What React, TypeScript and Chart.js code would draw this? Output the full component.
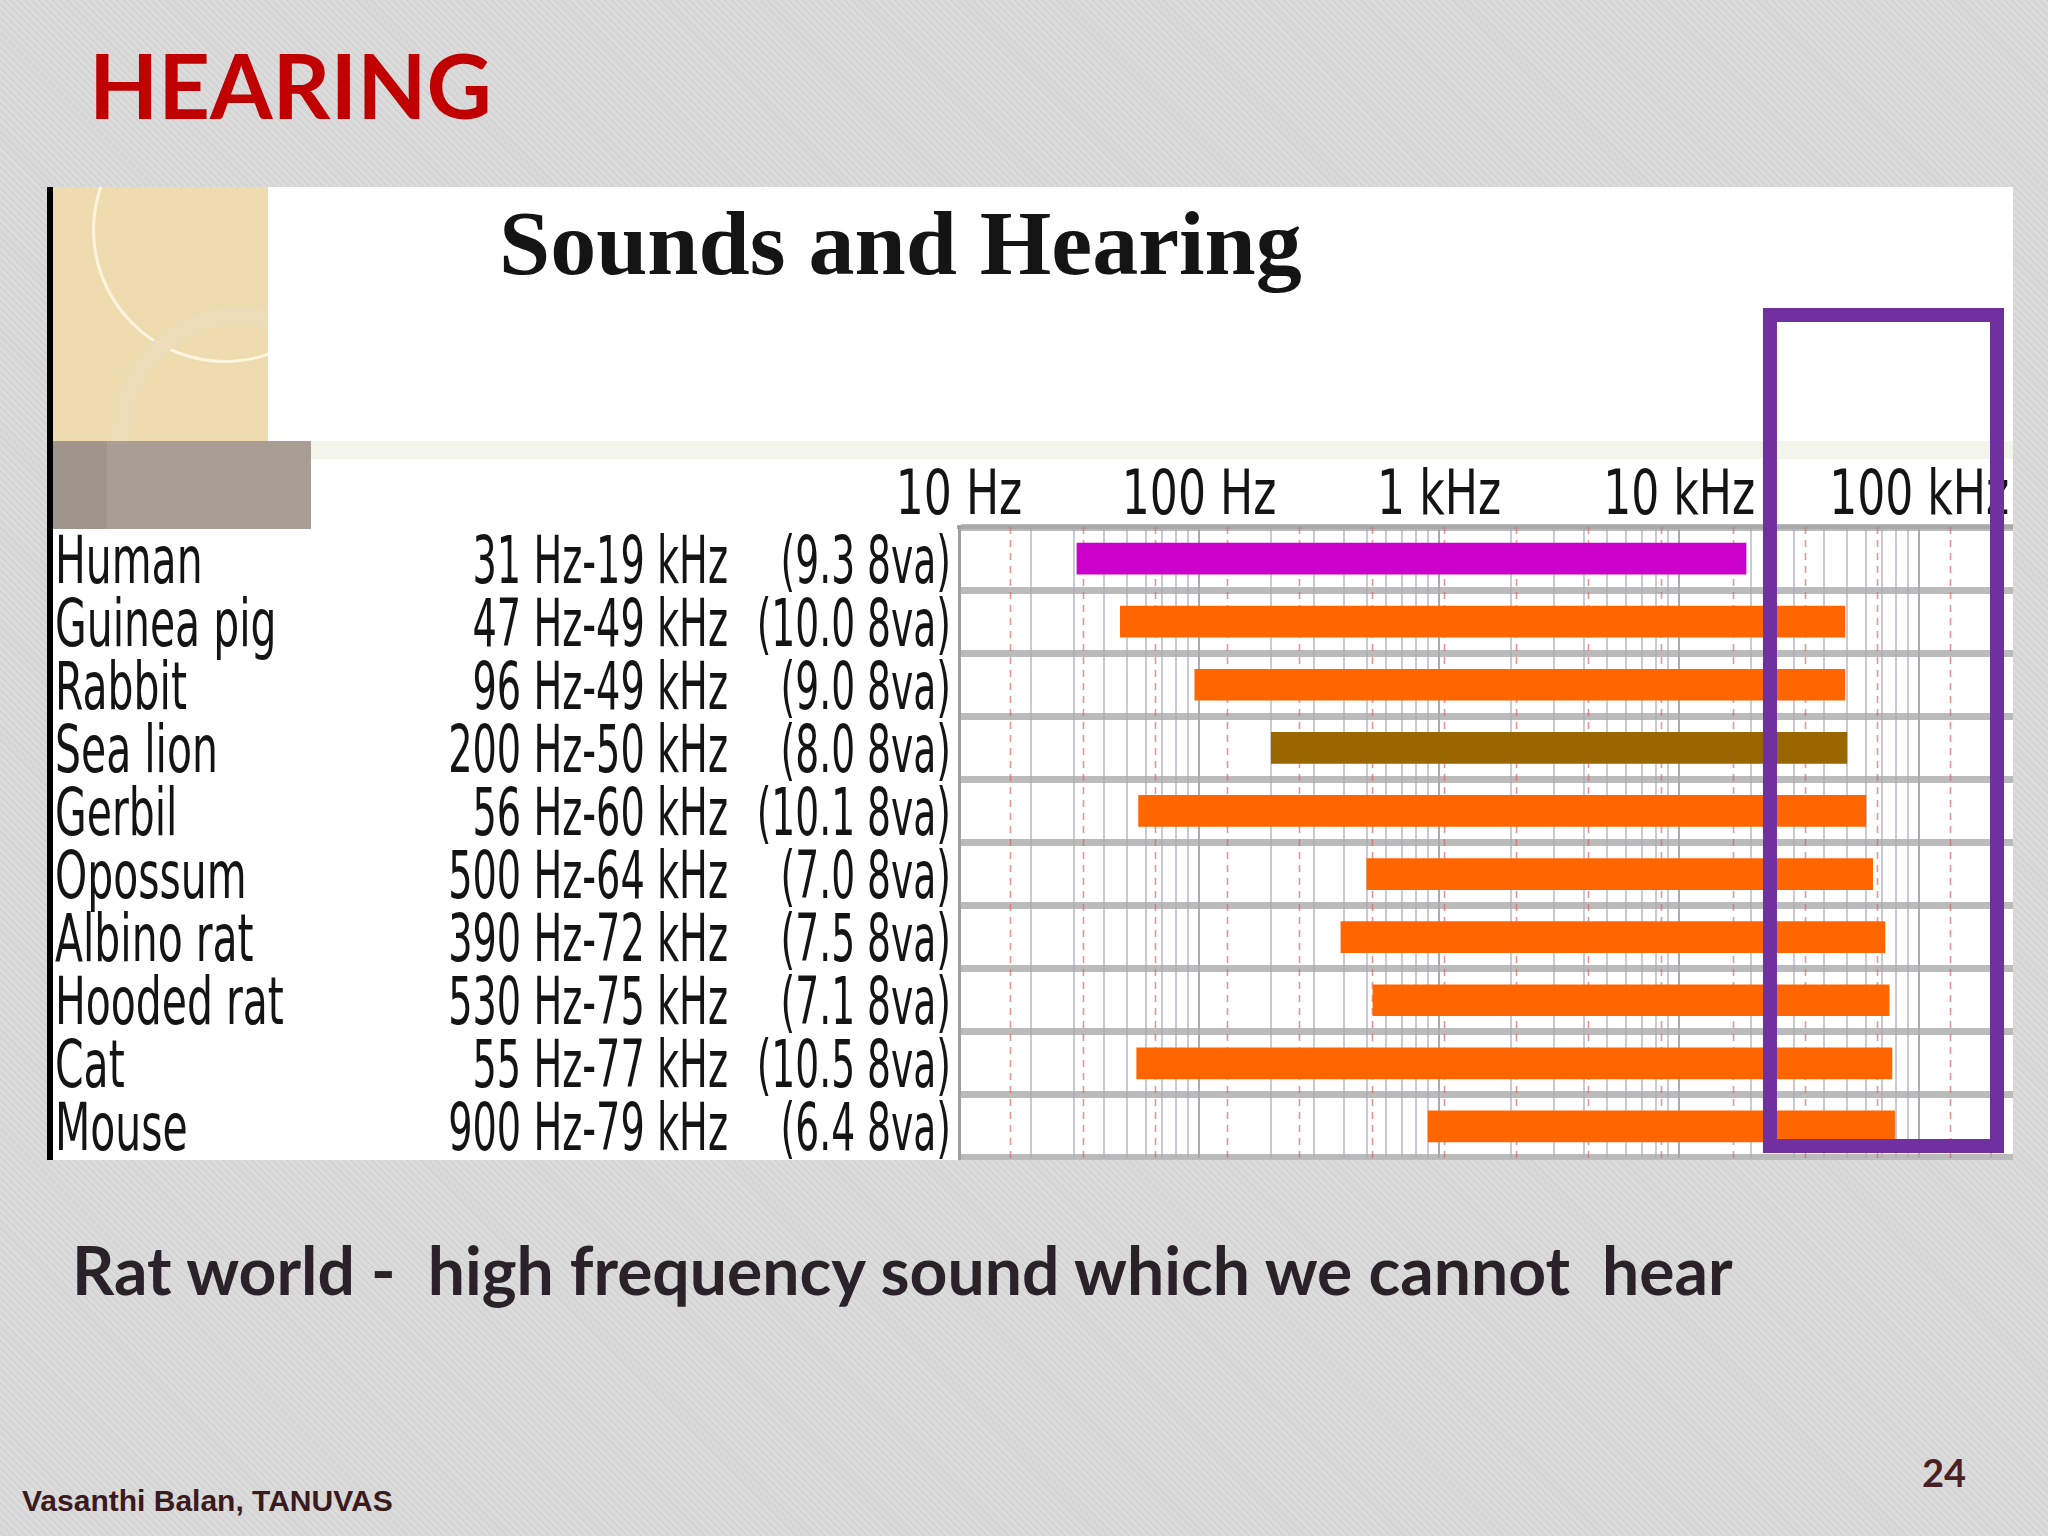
import React, { useEffect, useRef } from 'react';
import { Chart, registerables } from 'chart.js';

Chart.register(...registerables);

// ---------- data ----------
const CHART_TITLE = 'Sounds and Hearing';
const CATEGORIES = ['Human', 'Guinea pig', 'Rabbit', 'Sea lion', 'Gerbil', 'Opossum', 'Albino rat', 'Hooded rat', 'Cat', 'Mouse'];
const LOW_HZ = [31, 47, 96, 200, 56, 500, 390, 530, 55, 900];
const HIGH_HZ = [19000, 49000, 49000, 50000, 60000, 64000, 72000, 75000, 77000, 79000];
const RANGE_LABELS = ['31 Hz-19 kHz', '47 Hz-49 kHz', '96 Hz-49 kHz', '200 Hz-50 kHz', '56 Hz-60 kHz', '500 Hz-64 kHz', '390 Hz-72 kHz', '530 Hz-75 kHz', '55 Hz-77 kHz', '900 Hz-79 kHz'];
const OCTAVE_LABELS = ['(9.3 8va)', '(10.0 8va)', '(9.0 8va)', '(8.0 8va)', '(10.1 8va)', '(7.0 8va)', '(7.5 8va)', '(7.1 8va)', '(10.5 8va)', '(6.4 8va)'];
const BAR_COLORS = ['#cc00cc', '#ff6600', '#ff6600', '#996600', '#ff6600', '#ff6600', '#ff6600', '#ff6600', '#ff6600', '#ff6600'];
const TICK_VALUES = [10, 100, 1000, 10000, 100000];
const TICK_LABELS = ['10 Hz', '100 Hz', '1 kHz', '10 kHz', '100 kHz'];
const OCTAVE_C_HZ = [16.35, 32.7, 65.41, 130.81, 261.63, 523.25, 1046.5, 2093, 4186, 8372, 16744, 33488, 66976, 133952];
const X_MIN = 10;
const X_MAX = 246000;
const HIGHLIGHT_HZ = [23900, 211000];

const SLIDE_TITLE = 'HEARING';
const SUBTITLE = 'Rat world -  high frequency sound which we cannot  hear';
const FOOTER = 'Vasanthi Balan, TANUVAS';
const PAGE_NO = '24';

function squishText(ctx: CanvasRenderingContext2D, text: string, x: number, y: number, align: CanvasTextAlign, sx: number) {
  ctx.save();
  ctx.translate(x, y);
  ctx.scale(sx, 1);
  ctx.textAlign = align;
  ctx.textBaseline = 'alphabetic';
  ctx.fillText(text, 0, 0);
  ctx.restore();
}

const decorPlugin = {
  id: 'decor',
  beforeDatasetsDraw(chart: any) {
    const { ctx, chartArea, scales } = chart;
    const x = scales.x;
    ctx.save();
    ctx.strokeStyle = 'rgba(225,90,90,0.65)';
    ctx.lineWidth = 1.6;
    ctx.setLineDash([7, 6]);
    OCTAVE_C_HZ.forEach((hz) => {
      const px = Math.round(x.getPixelForValue(hz)) + 0.5;
      if (px < chartArea.left || px > chartArea.right) return;
      ctx.beginPath();
      ctx.moveTo(px, chartArea.top);
      ctx.lineTo(px, chartArea.bottom);
      ctx.stroke();
    });
    ctx.restore();
  },
  afterDraw(chart: any) {
    const { ctx, chartArea, scales } = chart;
    const x = scales.x;
    const y = scales.y;
    ctx.save();
    ctx.fillStyle = '#141414';
    // chart title
    ctx.font = 'bold 92px "Liberation Serif"';
    ctx.textAlign = 'left';
    ctx.fillText(CHART_TITLE, 452, 87);
    // frequency tick labels
    ctx.font = '63px "DejaVu Sans"';
    TICK_VALUES.forEach((v, i) => {
      squishText(ctx, TICK_LABELS[i], x.getPixelForValue(v), chartArea.top - 13, 'center', 0.7);
    });
    // row labels
    ctx.font = '66px "DejaVu Sans"';
    CATEGORIES.forEach((name, i) => {
      const cy = y.getPixelForValue(i) + 24;
      squishText(ctx, name, 8, cy, 'left', 0.62);
      squishText(ctx, RANGE_LABELS[i], chartArea.left - 231, cy, 'right', 0.58);
      squishText(ctx, OCTAVE_LABELS[i], chartArea.left - 8, cy, 'right', 0.57);
    });
    // highlight box
    const l = x.getPixelForValue(HIGHLIGHT_HZ[0]);
    const r = x.getPixelForValue(HIGHLIGHT_HZ[1]);
    ctx.strokeStyle = '#7030a0';
    ctx.lineWidth = 14;
    ctx.strokeRect(l, chartArea.top - 212, r - l, chartArea.bottom - 12 - (chartArea.top - 212));
    ctx.restore();
  },
};

function buildGridTicks() {
  const ticks: { value: number }[] = [];
  for (let d = 10; d <= 100000; d *= 10) {
    for (let m = 1; m <= 9; m++) ticks.push({ value: d * m });
  }
  ticks.push({ value: 1000000 / 5 });
  return ticks;
}

function HearingChart() {
  const ref = useRef<HTMLCanvasElement | null>(null);
  useEffect(() => {
    if (!ref.current) return;
    const chart = new Chart(ref.current, {
      type: 'bar',
      data: {
        labels: CATEGORIES,
        datasets: [
          {
            data: CATEGORIES.map((_, i) => [LOW_HZ[i], HIGH_HZ[i]]) as any,
            backgroundColor: BAR_COLORS,
            borderWidth: 0,
            borderSkipped: false,
            barThickness: 31,
          },
        ],
      },
      options: {
        indexAxis: 'y',
        animation: false,
        responsive: false,
        maintainAspectRatio: false,
        layout: { padding: { left: 912, top: 340, right: 0, bottom: 2 } },
        plugins: { legend: { display: false }, tooltip: { enabled: false }, title: { display: false } },
        scales: {
          x: {
            type: 'logarithmic',
            position: 'top',
            min: X_MIN,
            max: X_MAX,
            afterBuildTicks: (scale: any) => {
              scale.ticks = buildGridTicks().filter((t) => t.value >= X_MIN && t.value <= X_MAX);
            },
            ticks: { display: false },
            grid: {
              drawTicks: false,
              color: (c: any) => {
                const v = c.tick ? c.tick.value : 0;
                const lg = Math.log10(v);
                return Math.abs(lg - Math.round(lg)) < 1e-6 ? 'rgba(140,140,160,0.75)' : 'rgba(165,167,188,0.6)';
              },
              lineWidth: 2,
            },
            border: { display: true, color: '#a8a8a8', width: 4 },
          },
          y: {
            type: 'category',
            ticks: { display: false },
            grid: { drawTicks: false, color: 'rgba(170,170,170,0.8)', lineWidth: 7, offset: true },
            border: { display: true, color: '#a0a0a0', width: 3 },
          },
        },
      },
      plugins: [decorPlugin],
    } as any);
    return () => chart.destroy();
  }, []);
  return <canvas ref={ref} width={1966} height={973} style={{ position: 'absolute', left: 0, top: 0 }} />;
}

export default function App() {
  return (
    <div
      style={{
        position: 'fixed',
        left: 0,
        top: 0,
        width: 2048,
        height: 1536,
        overflow: 'hidden',
        background:
          'repeating-linear-gradient(45deg, rgba(255,255,255,0.10) 0px, rgba(255,255,255,0.10) 2px, rgba(0,0,0,0.02) 2px, rgba(0,0,0,0.02) 5px), #d9d9d9',
      }}
    >
      <div
        style={{
          position: 'absolute',
          left: 89,
          top: 29,
          fontFamily: 'Lato, "Open Sans", sans-serif',
          fontWeight: 700,
          fontSize: 90,
          lineHeight: '110px',
          color: '#c00000',
        }}
      >
        {SLIDE_TITLE}
      </div>

      {/* chart panel */}
      <div style={{ position: 'absolute', left: 47, top: 187, width: 1966, height: 973, background: '#ffffff', overflow: 'hidden' }}>
        <div style={{ position: 'absolute', left: 5, top: 0, width: 216, height: 254, background: '#efdcae', overflow: 'hidden' }}>
          <div style={{ position: 'absolute', left: 40, top: -90, width: 260, height: 260, borderRadius: '50%', border: '3px solid rgba(255,250,235,0.8)' }} />
          <div style={{ position: 'absolute', left: 60, top: 120, width: 220, height: 220, borderRadius: '50%', border: '18px solid rgba(235,220,185,0.9)' }} />
        </div>
        <div style={{ position: 'absolute', left: 5, top: 254, width: 259, height: 88, background: '#a99e93' }} />
        <div style={{ position: 'absolute', left: 5, top: 254, width: 55, height: 88, background: '#9f958a' }} />
        <div style={{ position: 'absolute', left: 264, top: 254, width: 1702, height: 18, background: '#f3f4ea' }} />
        <div style={{ position: 'absolute', left: 0, top: 0, width: 6, height: 973, background: '#000000' }} />
        <HearingChart />
      </div>

      <div
        style={{
          position: 'absolute',
          left: 72,
          top: 1230,
          fontFamily: 'Lato, "Open Sans", sans-serif',
          fontWeight: 700,
          fontSize: 66,
          lineHeight: '80px',
          color: '#2a2226',
          whiteSpace: 'pre',
        }}
      >
        {SUBTITLE}
      </div>
      <div
        style={{
          position: 'absolute',
          left: 22,
          top: 1484,
          fontFamily: '"Liberation Sans", Arial, sans-serif',
          fontWeight: 700,
          fontSize: 30,
          lineHeight: '34px',
          color: '#3b1a1e',
        }}
      >
        {FOOTER}
      </div>
      <div
        style={{
          position: 'absolute',
          left: 1922,
          top: 1450,
          fontFamily: 'Lato, sans-serif',
          fontWeight: 700,
          fontSize: 38,
          lineHeight: '44px',
          color: '#4b1f24',
        }}
      >
        {PAGE_NO}
      </div>
    </div>
  );
}
